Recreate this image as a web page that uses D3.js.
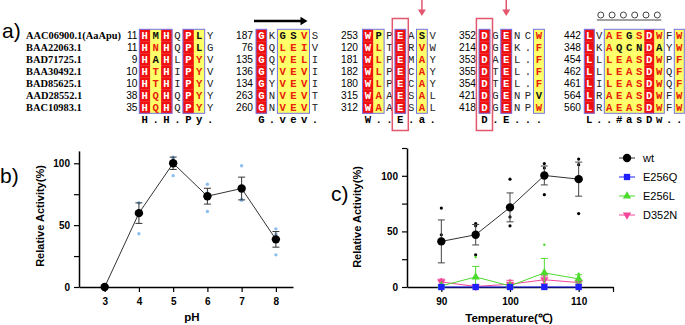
<!DOCTYPE html>
<html>
<head>
<meta charset="utf-8">
<script src="https://cdn.jsdelivr.net/npm/d3@7"></script>
<style>
  body { margin: 0; background: #fff; }
  svg { display: block; }
  .tick text { font-family: "Liberation Sans", Arial, sans-serif; font-weight: bold; font-size: 10px; fill: #000; }
  .domain { stroke-width: 1.5px; }
  .tick line { stroke-width: 1.2px; }
</style>
</head>
<body>
<div id="chart"></div>
<script>
/* figure: a) alignment, b) pH profile, c) temperature profile */

const width = 685, height = 325;

// ---- a) alignment data ----
const seqNames = ["AAC06900.1(AaApu)", "BAA22063.1", "BAD71725.1", "BAA30492.1", "BAD85625.1", "AAD28552.1", "BAC10983.1"];
const startNums = [
  [11, 11, 9, 10, 10, 38, 35],
  [187, 76, 135, 136, 134, 263, 260],
  [253, 120, 181, 182, 180, 315, 312],
  [352, 214, 353, 355, 354, 421, 418],
  [442, 348, 454, 462, 461, 564, 560]
];
const blockSeqs = [
  ["HMHQPLY", "HNHQPLG", "HAHLPYV", "HTHIPYV", "HTHIPYV", "HQHQPYY", "HQHQPYY"],
  ["GKGSVS", "GQLEIV", "GQVELI", "GYVEVI", "GYVEVI", "GNVEVT", "GNVEVT"],
  ["WPPEASV", "WLTERVW", "WLPEMAY", "WLPECAY", "WLPECAY", "WAAESAL", "WAAESAL"],
  ["DGENCW", "DGEK.F", "DAEL.F", "DTEL.F", "DTEL.F", "DGENPV", "DGENPW"],
  ["LVAEGSDWFW", "LKAQCNDAYW", "LLLEASDWPF", "LLLEASDWQF", "LILEASDWQF", "LRAEASDWFW", "LRAEASDWFW"]
];
const consensus = ["H.H.Py.", "G.vev.", "W..E.a.", "D.E...", "L..#asDw.."];
// R = strict identity, Y = similarity, - = none
const shading = ["RYR-RY-", "R-YYY-", "RY-R-Y-", "R-R--Y", "R-YYYYRY-Y"];
// residues in similarity columns that are not similar (black text) [row, col]
const blackOnYellow = [
  [[0, 1], [2, 1], [0, 5], [1, 5]],
  [[0, 2], [0, 3]],
  [[0, 1], [0, 5]],
  [[5, 5]],
  [[0, 4], [1, 3], [1, 4], [1, 5], [1, 7]]
];
const frames = [
  [[0, 2], [4, 5]],
  [[0, 0], [2, 4]],
  [[0, 1], [3, 3], [5, 5]],
  [[0, 0], [2, 2], [5, 5]],
  [[0, 0], [2, 7], [9, 9]]
];
const markedCols = [[2, 3], [3, 0]];   // [block, col] boxed in pink
const arrowCols = [[2, 5], [3, 2]];    // [block, col] pink arrows

// ---- b) pH data ----
const pHs = [3, 4, 5, 6, 7, 8];
const pHMean = [0, 59.7, 100, 73.4, 79.6, 38.5];
const pHErr = [0, 8.3, 5, 6.4, 9.2, 6.3];
const pHReps = [[0, 0, 0], [68, 68, 43], [105, 104, 90], [83, 76, 61], [98, 71, 70], [47, 42.5, 26]];

// ---- c) temperature data ----
const temps = [90, 95, 100, 105, 110];
const mutants = ["wt", "E256Q", "E256L", "D352N"];
const tMean = {
  wt: [41, 47, 71.6, 100.3, 97],
  E256Q: [0, 0, 0, 0, 0],
  E256L: [1, 9, 1, 12.7, 7.3],
  D352N: [4.5, 0.5, 2.5, 6.5, 4]
};
const tErr = {
  wt: [19.3, 9.2, 13, 8.5, 15.3],
  E256Q: [0, 0, 0, 0, 0],
  E256L: [0.5, 9.5, 0.5, 13, 3.7],
  D352N: [2.5, 0.5, 3.5, 3.5, 2]
};
const tReps = {
  wt: [[71, 47, 5], [57, 55, 29], [97, 63, 55], [111, 107, 83], [115, 110, 66]],
  E256Q: [[0, 0, 0], [0, 0, 0], [0, 0, 0], [0, 0, 0], [0, 0, 0]],
  E256L: [[2, 1, 0], [27, 0, 0], [1, 2, 0], [38, 0, 0], [12, 10, 0]],
  D352N: [[7, 4, 2.5], [1, 0.5, 0], [6, 1.5, 0], [10, 6.5, 3], [6, 4, 2]]
};

const svg = d3.select("#chart").append("svg")
  .attr("width", width).attr("height", height)
  .attr("viewBox", [0, 0, width, height]);

const sans = '"Liberation Sans", Arial, sans-serif';
const mono = '"Liberation Mono", "Courier New", monospace';
const RED = "#f01010", YEL = "#ffff66", FRAME = "#7272e8", PINK = "#e2566e";

// ================= a) =================
svg.append("text").attr("x", 2).attr("y", 38)
  .attr("font-family", sans).attr("font-size", 21).text("a)");

// rows: 7 sequences + consensus
const rowY = d3.scaleBand().domain(d3.range(8)).range([29.3, 29.3 + 8 * 12]);
const rowMid = i => rowY(i) + rowY.bandwidth() / 2;

svg.append("g").selectAll("text").data(seqNames).join("text")
  .attr("x", 26).attr("y", (d, i) => rowMid(i) + 3.5)
  .attr("font-family", '"Liberation Serif", "Times New Roman", serif')
  .attr("font-weight", "bold").attr("font-size", 10.4)
  .text(d => d);

const blockLayout = [
  { x0: 139.3, w: 10.9, num: 137.5 },
  { x0: 256, w: 10.7, num: 253 },
  { x0: 362.5, w: 10.8, num: 358 },
  { x0: 479, w: 10.9, num: 476 },
  { x0: 584.3, w: 10, num: 581 }
];
const colScales = blockSeqs.map((b, k) => {
  const n = b[0].length, L = blockLayout[k];
  return d3.scaleBand().domain(d3.range(n)).range([L.x0, L.x0 + n * L.w]);
});

blockSeqs.forEach((rows, k) => {
  const x = colScales[k];
  const g = svg.append("g");
  const blackSet = new Set(blackOnYellow[k].map(d => d.join(",")));

  // numbers
  g.selectAll("text.num").data(startNums[k]).join("text")
    .attr("class", "num")
    .attr("x", blockLayout[k].num).attr("y", (d, i) => rowMid(i) + 3.5)
    .attr("text-anchor", "end").attr("font-family", sans).attr("font-size", 10.2)
    .text(d => d);

  const cells = [];
  rows.forEach((s, r) => s.split("").forEach((c, j) => cells.push({ r, j, c, t: shading[k][j] })));

  g.selectAll("rect.cell").data(cells.filter(d => d.t !== "-")).join("rect")
    .attr("x", d => x(d.j)).attr("y", d => rowY(d.r))
    .attr("width", x.bandwidth() + 0.3).attr("height", rowY.bandwidth() + 0.3)
    .attr("fill", d => d.t === "R" ? RED : YEL);

  // blue frames around conserved groups
  g.selectAll("rect.frame").data(frames[k]).join("rect")
    .attr("x", d => x(d[0])).attr("y", rowY(0))
    .attr("width", d => x(d[1]) + x.bandwidth() - x(d[0]))
    .attr("height", rowY(7) - rowY(0))
    .attr("fill", "none").attr("stroke", FRAME).attr("stroke-width", 1);

  g.selectAll("text.res").data(cells).join("text")
    .attr("x", d => x(d.j) + x.bandwidth() / 2).attr("y", d => rowMid(d.r) + 3.7)
    .attr("text-anchor", "middle").attr("font-family", mono).attr("font-size", 10.6)
    .attr("font-weight", d => d.t === "-" ? "normal" : "bold")
    .attr("fill", d => d.t === "R" ? "#fff" : d.t === "Y" ? (blackSet.has(d.r + "," + d.j) ? "#111" : "#e8200c") : "#222")
    .text(d => d.c);

  g.selectAll("text.cons").data(consensus[k].split("")).join("text")
    .attr("x", (d, j) => x(j) + x.bandwidth() / 2).attr("y", rowMid(7) + 3.7)
    .attr("text-anchor", "middle").attr("font-family", mono).attr("font-size", 10.6)
    .attr("font-weight", "bold").text(d => d);
});

// pink boxes around the catalytic columns
markedCols.forEach(([k, j]) => {
  const x = colScales[k];
  svg.append("rect")
    .attr("x", x(j) - 2.6).attr("y", 18.5)
    .attr("width", x.bandwidth() + 5.2).attr("height", 112)
    .attr("fill", "none").attr("stroke", PINK).attr("stroke-width", 1.5);
});
arrowCols.forEach(([k, j]) => {
  const x = colScales[k], cx = x(j) + x.bandwidth() / 2;
  svg.append("line").attr("x1", cx).attr("x2", cx).attr("y1", 0).attr("y2", 11)
    .attr("stroke", PINK).attr("stroke-width", 1.5);
  svg.append("path").attr("d", `M${cx - 4},9.5L${cx + 4},9.5L${cx},16Z`).attr("fill", PINK);
});

// beta strand over block 2
{
  const x = colScales[1];
  const x1 = x(0) - 2, x2 = x(5) - 2;
  svg.append("line").attr("x1", x1).attr("x2", x2 - 6).attr("y1", 21).attr("y2", 21)
    .attr("stroke", "#000").attr("stroke-width", 2.6);
  svg.append("path").attr("d", `M${x2 - 7},16.8L${x2},21L${x2 - 7},25.2Z`).attr("fill", "#000");
}
// helix over block 5
{
  const x = colScales[4];
  const hx = d3.scaleLinear().domain([0, 5]).range([x(2) - 3.5, x(7) + 3]);
  svg.append("line").attr("x1", hx(0) - 4).attr("x2", hx(5) + 4).attr("y1", 20).attr("y2", 20)
    .attr("stroke", "#444").attr("stroke-width", 1);
  svg.append("g").selectAll("circle").data(d3.range(6)).join("circle")
    .attr("cx", d => hx(d)).attr("cy", 15).attr("r", 3)
    .attr("fill", "none").attr("stroke", "#444").attr("stroke-width", 1);
}

// ================= shared chart helpers =================
function yAxisCall(y, max) {
  return d3.axisLeft(y).tickValues(d3.range(0, max + 1, 25))
    .tickFormat(d => d % 50 === 0 ? d : "").tickSize(5).tickSizeOuter(0).tickPadding(4);
}
function errBars(g, data, x, y, color) {
  const e = g.append("g").attr("stroke", color).attr("stroke-width", 1);
  e.selectAll("line.v").data(data).join("line")
    .attr("x1", d => x(d.x)).attr("x2", d => x(d.x))
    .attr("y1", d => y(d.m - d.e)).attr("y2", d => y(d.m + d.e));
  ["lo", "hi"].forEach(side => {
    e.selectAll("line." + side).data(data.filter(d => d.e > 0)).join("line")
      .attr("x1", d => x(d.x) - 3.5).attr("x2", d => x(d.x) + 3.5)
      .attr("y1", d => y(side === "lo" ? d.m - d.e : d.m + d.e))
      .attr("y2", d => y(side === "lo" ? d.m - d.e : d.m + d.e));
  });
}

// ================= b) =================
svg.append("text").attr("x", 0).attr("y", 183)
  .attr("font-family", sans).attr("font-size", 21).text("b)");

const xB = d3.scaleLinear().domain([2.25, 8.5]).range([79, 293]);
const yB = d3.scaleLinear().domain([0, 110]).range([287, 150.9]);

svg.append("g").attr("transform", "translate(0,287)")
  .call(d3.axisBottom(xB).tickValues(pHs).tickFormat(d3.format("d"))
    .tickSize(5).tickSizeOuter(0).tickPadding(6));
svg.append("g").attr("transform", "translate(79,0)").call(yAxisCall(yB, 100));

svg.append("text").attr("transform", "translate(44,216) rotate(-90)")
  .attr("text-anchor", "middle").attr("font-family", sans).attr("font-weight", "bold")
  .attr("font-size", 11).text("Relative Activity(%)");
svg.append("text").attr("x", 192).attr("y", 321).attr("text-anchor", "middle")
  .attr("font-family", sans).attr("font-weight", "bold").attr("font-size", 11.5).text("pH");

const bPts = pHs.map((p, i) => ({ x: p, m: pHMean[i], e: pHErr[i] }));
const gB = svg.append("g");
gB.selectAll("circle.rep").data(pHs.flatMap((p, i) => pHReps[i].map(v => ({ x: p, v }))))
  .join("circle").attr("cx", d => xB(d.x)).attr("cy", d => yB(d.v)).attr("r", 1.7)
  .attr("fill", "#8cbff0");
gB.append("path").datum(bPts)
  .attr("d", d3.line().x(d => xB(d.x)).y(d => yB(d.m)))
  .attr("fill", "none").attr("stroke", "#333").attr("stroke-width", 1);
errBars(gB, bPts, xB, yB, "#333");
gB.selectAll("circle.mean").data(bPts).join("circle")
  .attr("cx", d => xB(d.x)).attr("cy", d => yB(d.m)).attr("r", 4.2).attr("fill", "#000");

// ================= c) =================
svg.append("text").attr("x", 331).attr("y", 201)
  .attr("font-family", sans).attr("font-size", 21).text("c)");

const xC = d3.scaleLinear().domain([85, 115]).range([407, 613]);
const yC = d3.scaleLinear().domain([0, 125]).range([287, 148]);

svg.append("g").attr("transform", "translate(0,287)")
  .call(d3.axisBottom(xC).tickValues([90, 100, 110, 115])
    .tickFormat(d => d === 115 ? "" : d).tickSize(5).tickSizeOuter(0).tickPadding(6));
svg.append("g").attr("transform", "translate(407,0)").call(yAxisCall(yC, 125));

svg.append("text").attr("transform", "translate(361,217) rotate(-90)")
  .attr("text-anchor", "middle").attr("font-family", sans).attr("font-weight", "bold")
  .attr("font-size", 11).text("Relative Activity(%)");
svg.append("text").attr("x", 509).attr("y", 322).attr("text-anchor", "middle")
  .attr("font-family", sans).attr("font-weight", "bold").attr("font-size", 11.5).text("Temperature(℃)");

const styles = {
  wt: { color: "#000", line: "#333", sym: d3.symbolCircle, size: 55, rep: 1.6 },
  E256Q: { color: "#1f1fff", line: "#1f1fff", sym: d3.symbolSquare, size: 40, rep: 1.2 },
  E256L: { color: "#4ddb2e", line: "#4ddb2e", sym: d3.symbolTriangle, size: 30, rep: 1.2 },
  D352N: { color: "#f2479a", line: "#f2479a", sym: d3.symbolTriangle, size: 30, rep: 1.2 }
};
const drawOrder = ["wt", "D352N", "E256L", "E256Q"];

drawOrder.forEach(name => {
  const st = styles[name];
  const pts = temps.map((t, i) => ({ x: t, m: tMean[name][i], e: tErr[name][i] }));
  const g = svg.append("g");
  g.selectAll("circle.rep").data(temps.flatMap((t, i) => tReps[name][i].map(v => ({ x: t, v }))))
    .join("circle").attr("cx", d => xC(d.x)).attr("cy", d => yC(d.v)).attr("r", st.rep)
    .attr("fill", st.color);
  g.append("path").datum(pts)
    .attr("d", d3.line().x(d => xC(d.x)).y(d => yC(d.m)))
    .attr("fill", "none").attr("stroke", st.line).attr("stroke-width", 1);
  errBars(g, pts, xC, yC, name === "wt" ? "#444" : st.color);
  g.selectAll("path.sym").data(pts).join("path")
    .attr("transform", d => `translate(${xC(d.x)},${yC(d.m)})` + (name === "D352N" ? " rotate(180)" : ""))
    .attr("d", d3.symbol(st.sym, st.size)).attr("fill", st.color);
});

// legend
const legY = d3.scalePoint().domain(mutants).range([158, 215]);
const leg = svg.append("g");
mutants.forEach(name => {
  const st = styles[name], y = legY(name);
  leg.append("line").attr("x1", 619).attr("x2", 635).attr("y1", y).attr("y2", y)
    .attr("stroke", st.line).attr("stroke-width", 1);
  leg.append("path").attr("transform", `translate(627,${y})` + (name === "D352N" ? " rotate(180)" : ""))
    .attr("d", d3.symbol(st.sym, st.size)).attr("fill", st.color);
  leg.append("text").attr("x", 643).attr("y", y + 4)
    .attr("font-family", sans).attr("font-size", 11).text(name);
});
</script>
</body>
</html>
